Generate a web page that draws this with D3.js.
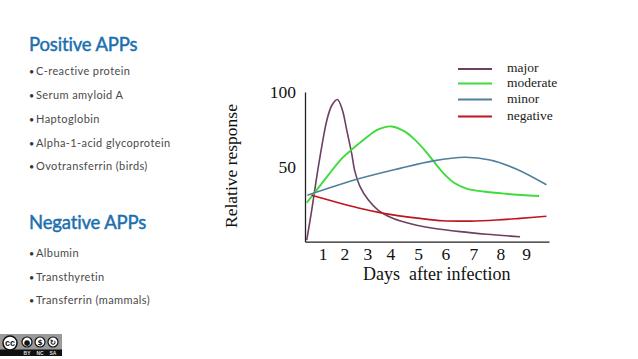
<!DOCTYPE html>
<html>
<head>
<meta charset="utf-8">
<script src="https://cdn.jsdelivr.net/npm/d3@7"></script>
<style>
  html, body { margin: 0; padding: 0; background: #fff; }
  svg { display: block; }
</style>
</head>
<body>
<div id="chart"></div>
<script>
var positiveApps = ["C-reactive protein", "Serum amyloid A", "Haptoglobin", "Alpha-1-acid glycoprotein", "Ovotransferrin (birds)"];
var negativeApps = ["Albumin", "Transthyretin", "Transferrin (mammals)"];

var dayTicks = [1, 2, 3, 4, 5, 6, 7, 8, 9];
var responseTicks = [50, 100];

var seriesNames = ["major", "moderate", "minor", "negative"];

var majorDays = [0.26, 0.49, 0.72, 0.95, 1.19, 1.42, 1.68, 1.91, 2.10, 2.32, 2.46, 2.68, 3.04, 3.48, 4.05, 4.53, 4.95, 5.55, 6.53, 7.49, 8.77];
var majorValues = [1, 21, 43, 63, 81, 91, 95, 88, 75, 59, 47, 37, 28, 21, 16, 13, 11, 9, 6.7, 5, 3.3];

var moderateDays = [0.26, 0.64, 1.26, 1.88, 2.32, 2.91, 3.48, 4.05, 4.53, 4.89, 5.25, 5.56, 5.92, 6.34, 6.76, 7.38, 8.23, 9.51];
var moderateValues = [26, 33, 44.5, 55.5, 61.5, 69, 75, 77, 73.5, 68, 61, 54, 46, 39, 35.5, 33.5, 32, 30.5];

var minorDays = [0.29, 2.62, 4.35, 5.56, 6.70, 7.62, 8.64, 9.80];
var minorValues = [31, 42, 49, 54, 56.4, 54.6, 48.4, 38];

var negativeDays = [0.49, 2.62, 3.77, 5.07, 5.92, 6.88, 7.87, 8.77, 9.80];
var negativeValues = [31, 22.5, 18.8, 15.6, 14, 13.8, 14.5, 15.6, 17];

function init () {

    var w = 638;
    var h = 359;
    var serif = "'Liberation Serif', serif";
    var sans = "Lato, sans-serif";
    var colors = { major: "#6e3f60", moderate: "#3ddc3a", minor: "#4f7f9d", negative: "#c0141f" };

    var svg = d3.select("#chart")
                .append("svg")
                .attr("width", w)
                .attr("height", h);

    // the printed day labels are not evenly spaced, so the scale is piecewise
    var xScale = d3.scaleLinear()
                .domain([0.18, 1, 2, 3, 4, 5, 6, 7, 8, 9, 9.9])
                .range([305, 322.7, 344.3, 367.3, 390.3, 418, 445.3, 473.3, 500.3, 526, 549]);

    var yScale = d3.scaleLinear()
                .domain([0, 100])
                .range([241.7, 92]);

    var xAxis = d3.axisBottom(xScale)
                .tickValues(dayTicks)
                .tickSize(0)
                .tickPadding(6);

    var yAxis = d3.axisLeft(yScale)
                .tickValues(responseTicks)
                .tickSize(0)
                .tickPadding(9);

    svg.append("g")
                .attr("transform", "translate(0, 241.7)")
                .call(xAxis);

    svg.append("g")
                .attr("transform", "translate(305, 0)")
                .call(yAxis);

    svg.selectAll(".tick text")
                .attr("font-family", serif)
                .attr("font-size", 17.5)
                .attr("fill", "#111");
    svg.selectAll(".domain")
                .attr("stroke", "#222")
                .attr("stroke-width", 1.3);

    svg.append("text")
                .text("Days  after infection")
                .style("white-space", "pre")
                .attr("x", 363)
                .attr("y", 280)
                .attr("font-family", serif)
                .attr("font-size", 18)
                .attr("fill", "#111");

    svg.append("text")
                .text("Relative response")
                .attr("transform", "translate(237, 228) rotate(-90)")
                .attr("font-family", serif)
                .attr("font-size", 17.5)
                .attr("fill", "#111");

    var line = d3.line()
                .x(function(d) { return xScale(d[0]); })
                .y(function(d) { return yScale(d[1]); })
                .curve(d3.curveCatmullRom.alpha(0.5));

    var series = [
        { name: "major", values: d3.zip(majorDays, majorValues), width: 1.6 },
        { name: "moderate", values: d3.zip(moderateDays, moderateValues), width: 1.9 },
        { name: "minor", values: d3.zip(minorDays, minorValues), width: 1.6 },
        { name: "negative", values: d3.zip(negativeDays, negativeValues), width: 1.7 }
    ];

    svg.selectAll("path.curve")
                .data(series)
                .enter()
                .append("path")
                .attr("class", "curve")
                .attr("d", function(d) { return line(d.values); })
                .attr("fill", "none")
                .attr("stroke", function(d) { return colors[d.name]; })
                .attr("stroke-width", function(d) { return d.width; });

    // legend
    var legendY = [69, 83.5, 99.5, 116.5];
    var legend = svg.selectAll("g.legend")
                .data(seriesNames)
                .enter()
                .append("g")
                .attr("class", "legend")
                .attr("transform", function(d, i) { return "translate(458, " + legendY[i] + ")"; });

    legend.append("line")
                .attr("x1", 0)
                .attr("x2", 34)
                .attr("stroke", function(d) { return colors[d]; })
                .attr("stroke-width", 1.8);

    legend.append("text")
                .text(function(d) { return d; })
                .attr("x", 49)
                .attr("y", 3)
                .attr("font-family", serif)
                .attr("font-size", 13.5)
                .attr("fill", "#222");

    // left hand text blocks
    function block (title, titleY, items, itemsY) {
        svg.append("text")
                .text(title)
                .attr("x", 29)
                .attr("y", titleY)
                .attr("font-family", sans)
                .attr("font-size", 18.5)
                .attr("letter-spacing", -0.15)
                .attr("stroke", "#1b6fae")
                .attr("stroke-width", 0.45)
                .attr("fill", "#1b6fae");

        var rows = svg.selectAll(null)
                .data(items)
                .enter()
                .append("g")
                .attr("transform", function(d, i) { return "translate(29, " + itemsY[i] + ")"; });

        rows.append("text")
                .text("\u2022")
                .attr("font-family", sans)
                .attr("font-size", 9)
                .attr("fill", "#333");

        rows.append("text")
                .text(function(d) { return d; })
                .attr("x", 7)
                .attr("font-family", sans)
                .attr("font-size", 11)
                .attr("letter-spacing", 0.4)
                .attr("fill", "#4a4a4a");
    }

    block("Positive APPs", 51, positiveApps, [75, 98.5, 122.5, 146.5, 170]);
    block("Negative APPs", 229, negativeApps, [256.5, 281, 304]);

    // licence badge
    var badge = svg.append("g").attr("transform", "translate(0, 334)");
    badge.append("rect").attr("width", 62).attr("height", 22).attr("fill", "#9a9a9a");
    badge.append("rect").attr("y", 15.5).attr("width", 62).attr("height", 6.5).attr("fill", "#111");
    badge.append("circle").attr("cx", 10).attr("cy", 9).attr("r", 7).attr("fill", "#fff").attr("stroke", "#111").attr("stroke-width", 1.5);
    badge.append("text").text("cc").attr("x", 10).attr("y", 12).attr("text-anchor", "middle")
                .attr("font-family", "'Liberation Sans', sans-serif").attr("font-weight", 700).attr("font-size", 9).attr("fill", "#111");

    var badgeX = [27, 40, 53];
    var badgeIcons = ["\u25CF", "$", "\u21BB"];
    var badgeTerms = ["BY", "NC", "SA"];
    badgeX.forEach(function(x, i) {
        badge.append("circle").attr("cx", x).attr("cy", 8).attr("r", 5).attr("fill", "#fff").attr("stroke", "#111").attr("stroke-width", 1.2);
        badge.append("text").text(badgeIcons[i]).attr("x", x).attr("y", 11).attr("text-anchor", "middle")
                .attr("font-family", "'DejaVu Sans', sans-serif").attr("font-weight", 700).attr("font-size", 7.5).attr("fill", "#111");
        badge.append("text").text(badgeTerms[i]).attr("x", x).attr("y", 21).attr("text-anchor", "middle")
                .attr("font-family", "'Liberation Sans', sans-serif").attr("font-weight", 700).attr("font-size", 5).attr("fill", "#ddd");
    });
}
window.onload = init;
</script>
</body>
</html>
